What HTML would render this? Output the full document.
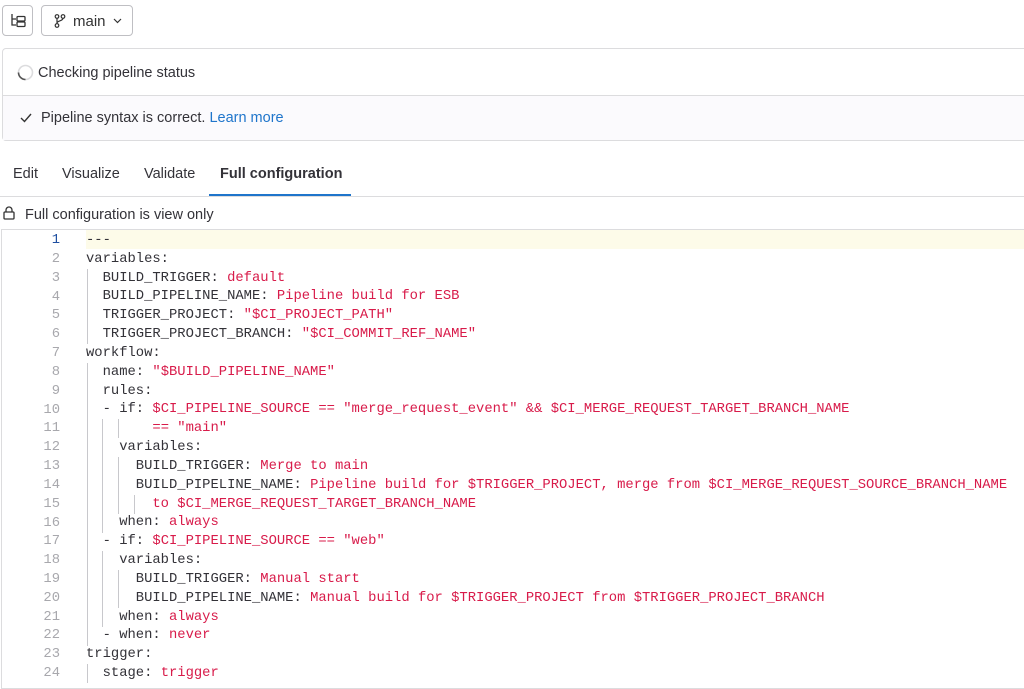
<!DOCTYPE html>
<html><head><meta charset="utf-8"><style>
*{margin:0;padding:0;box-sizing:border-box}
body{width:1024px;height:681px;overflow:hidden;background:#fff;font-family:"Liberation Sans",sans-serif;color:#333238;position:relative}
.a{position:absolute}
.btn{border:1px solid #bfbfc3;border-radius:4px;background:#fff}
.code{font-family:"Liberation Mono",monospace;font-size:13.84px;white-space:pre;color:#333238}
.ln{position:absolute;left:0;width:60px;text-align:right;color:#a8a8ad;font-family:"Liberation Mono",monospace;font-size:13.84px}
.r{color:#d81b4a}
.g{position:absolute;width:1px;background:#c8c8cc}
</style></head><body>
<div class="a btn" style="left:2px;top:5px;width:31px;height:31px">
<svg class="a" style="left:8px;top:8px" width="15" height="14" viewBox="0 0 15 14" fill="none" stroke="#333" stroke-width="1.3"><path d="M1 0v11h4M1 5h4"/><rect x="6" y="2.5" width="8" height="4.5" rx="1"/><rect x="6" y="8" width="8" height="4.5" rx="1"/></svg></div>
<div class="a btn" style="left:41px;top:5px;width:92px;height:31px">
<svg class="a" style="left:12px;top:8px" width="12" height="14" viewBox="0 0 12 14" fill="none" stroke="#333" stroke-width="1.2"><circle cx="3" cy="2.5" r="1.8"/><circle cx="9" cy="2.5" r="1.8"/><circle cx="3" cy="11.5" r="1.8"/><path d="M3 4.3v5.4M9 4.3c0 3-6 2-6 5"/></svg>
<span class="a" style="left:31px;top:7px;font-size:15px;color:#333">main</span>
<svg class="a" style="left:71px;top:12px" width="9" height="6" viewBox="0 0 9 6" fill="none" stroke="#333" stroke-width="1.2"><path d="M1 1l3.5 3.5L8 1"/></svg></div>
<div class="a" style="left:2px;top:48px;width:1030px;height:93px;border:1px solid #dcdcde;border-radius:4px"></div>
<div class="a" style="left:3px;top:95px;width:1030px;height:45px;background:#fbfafd;border-top:1px solid #dcdcde"></div>
<svg class="a" style="left:17px;top:64px" width="17" height="17" viewBox="0 0 17 17"><circle cx="8.5" cy="8.5" r="7" fill="none" stroke="#dcdcde" stroke-width="1.6"/><path d="M8.5 15.5A7 7 0 0 1 1.5 8.5" fill="none" stroke="#555" stroke-width="1.6"/></svg>
<div class="a" style="left:38px;top:65px;font-size:14.5px">Checking pipeline status</div>
<svg class="a" style="left:20px;top:113px" width="12" height="10" viewBox="0 0 12 10" fill="none" stroke="#333" stroke-width="1.4"><path d="M1 5l3.5 3.5L11 1"/></svg>
<div class="a" style="left:41px;top:110px;font-size:14.5px">Pipeline syntax is correct. <span style="color:#1f75cb">Learn more</span></div>
<div class="a" style="left:13px;top:166px;font-size:14.5px">Edit</div>
<div class="a" style="left:62px;top:166px;font-size:14.5px">Visualize</div>
<div class="a" style="left:144px;top:166px;font-size:14.5px">Validate</div>
<div class="a" style="left:220px;top:166px;font-size:14.5px;font-weight:bold">Full configuration</div>
<div class="a" style="left:0;top:196px;width:1024px;height:1px;background:#dcdcde"></div>
<div class="a" style="left:209px;top:194px;width:142px;height:2px;background:#1f75cb"></div>
<svg class="a" style="left:3px;top:206px" width="12" height="14" viewBox="0 0 12 14" fill="none" stroke="#333" stroke-width="1.3"><rect x="1" y="6" width="10" height="7" rx="1"/><path d="M3 6V4a3 3 0 0 1 6 0v2"/></svg>
<div class="a" style="left:25px;top:207px;font-size:14.5px">Full configuration is view only</div>
<div class="a" style="left:1px;top:229px;width:1030px;height:460px;border:1px solid #dcdcde"></div>
<div class="a" style="left:86px;top:230px;width:940px;height:19px;background:#fdfbe9"></div>
<div class="g" style="left:87px;top:269px;height:75px"></div>
<div class="g" style="left:87px;top:363px;height:283px"></div>
<div class="g" style="left:102px;top:419px;height:114px"></div>
<div class="g" style="left:118px;top:419px;height:19px"></div>
<div class="g" style="left:118px;top:457px;height:57px"></div>
<div class="g" style="left:134px;top:495px;height:19px"></div>
<div class="g" style="left:102px;top:551px;height:76px"></div>
<div class="g" style="left:118px;top:570px;height:38px"></div>
<div class="g" style="left:87px;top:664px;height:19px"></div>
<div class="a" style="left:0;top:231px;line-height:18.83px">
<div class="ln" style="top:0;color:#1f4fa0">1</div>
<div class="ln" style="top:18.83px">2</div><div class="ln" style="top:37.66px">3</div><div class="ln" style="top:56.5px">4</div><div class="ln" style="top:75.3px">5</div><div class="ln" style="top:94.15px">6</div><div class="ln" style="top:113px">7</div><div class="ln" style="top:131.8px">8</div><div class="ln" style="top:150.6px">9</div><div class="ln" style="top:169.5px">10</div><div class="ln" style="top:188.3px">11</div><div class="ln" style="top:207.1px">12</div><div class="ln" style="top:226px">13</div><div class="ln" style="top:244.8px">14</div><div class="ln" style="top:263.6px">15</div><div class="ln" style="top:282.5px">16</div><div class="ln" style="top:301.3px">17</div><div class="ln" style="top:320.1px">18</div><div class="ln" style="top:339px">19</div><div class="ln" style="top:357.8px">20</div><div class="ln" style="top:376.6px">21</div><div class="ln" style="top:395.4px">22</div><div class="ln" style="top:414.3px">23</div><div class="ln" style="top:433.1px">24</div>
</div>
<div class="a code" style="left:86px;top:231px;line-height:18.83px">---
variables:
  BUILD_TRIGGER: <span class="r">default</span>
  BUILD_PIPELINE_NAME: <span class="r">Pipeline build for ESB</span>
  TRIGGER_PROJECT: <span class="r">"$CI_PROJECT_PATH"</span>
  TRIGGER_PROJECT_BRANCH: <span class="r">"$CI_COMMIT_REF_NAME"</span>
workflow:
  name: <span class="r">"$BUILD_PIPELINE_NAME"</span>
  rules:
  - if: <span class="r">$CI_PIPELINE_SOURCE == "merge_request_event" &amp;&amp; $CI_MERGE_REQUEST_TARGET_BRANCH_NAME</span>
        <span class="r">== "main"</span>
    variables:
      BUILD_TRIGGER: <span class="r">Merge to main</span>
      BUILD_PIPELINE_NAME: <span class="r">Pipeline build for $TRIGGER_PROJECT, merge from $CI_MERGE_REQUEST_SOURCE_BRANCH_NAME</span>
<span class="r">        to $CI_MERGE_REQUEST_TARGET_BRANCH_NAME</span>
    when: <span class="r">always</span>
  - if: <span class="r">$CI_PIPELINE_SOURCE == "web"</span>
    variables:
      BUILD_TRIGGER: <span class="r">Manual start</span>
      BUILD_PIPELINE_NAME: <span class="r">Manual build for $TRIGGER_PROJECT from $TRIGGER_PROJECT_BRANCH</span>
    when: <span class="r">always</span>
  - when: <span class="r">never</span>
trigger:
  stage: <span class="r">trigger</span></div>
</body></html>
